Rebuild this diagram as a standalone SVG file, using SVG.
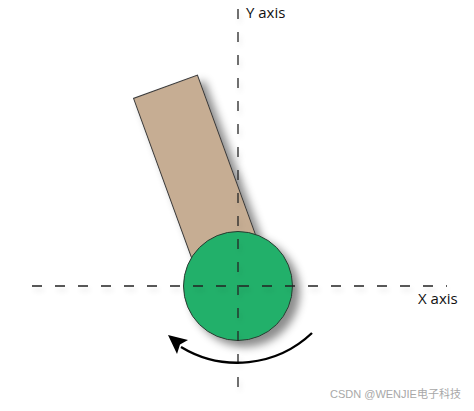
<svg xmlns="http://www.w3.org/2000/svg" width="474" height="411" viewBox="0 0 474 411">
  <defs>
    <filter id="shadow" x="-30%" y="-30%" width="160%" height="160%">
      <feDropShadow dx="7" dy="6" stdDeviation="4" flood-color="#000" flood-opacity="0.45"/>
    </filter>
    <filter id="lineShadow" x="-10%" y="-50%" width="120%" height="300%">
      <feDropShadow dx="2" dy="4" stdDeviation="2.5" flood-color="#000" flood-opacity="0.12"/>
    </filter>
  </defs>
  <style>
    .axis { stroke: #222; stroke-width: 1.3; stroke-dasharray: 10 13; fill: none; }
    .label { font-family: "Open Sans", "Liberation Sans", sans-serif; font-size: 15px; fill: #111; }
    .wm { font-family: "Liberation Sans", "Noto Sans CJK SC", sans-serif; font-size: 11px; fill: #a8a8a8; }
  </style>
  <rect width="474" height="411" fill="#ffffff"/>

  <g filter="url(#shadow)">
    <g id="arm">
      <rect x="-34" y="-212" width="68" height="212" transform="translate(238,286) rotate(-20)" fill="#C6AD93" stroke="#3a3a3a" stroke-width="1"/>
    </g>
    <g id="wheel">
      <circle cx="238" cy="286" r="54.5" fill="#23B06B" stroke="#2a3a30" stroke-width="1"/>
    </g>
  </g>

  <g id="axes" filter="url(#lineShadow)">
    <line class="axis" x1="29" y1="286" x2="447" y2="286" stroke-dashoffset="-3"/>
    <line class="axis" x1="238" y1="7" x2="238" y2="391" stroke-dashoffset="-2"/>
  </g>

  <g id="connectors">
    <path d="M312,333 A108.7,108.7 0 0,1 181,347" fill="none" stroke="#000" stroke-width="2.4"/>
    <path d="M168,335 L188,340 L180,344.5 L177,354 Z" fill="#000"/>
  </g>

  <g id="labels">
    <text class="label" x="246" y="18">Y axis</text>
    <text class="label" x="418" y="304">X axis</text>
  </g>
  <text class="wm" x="330" y="398">CSDN @WENJIE电子科技</text>
</svg>
